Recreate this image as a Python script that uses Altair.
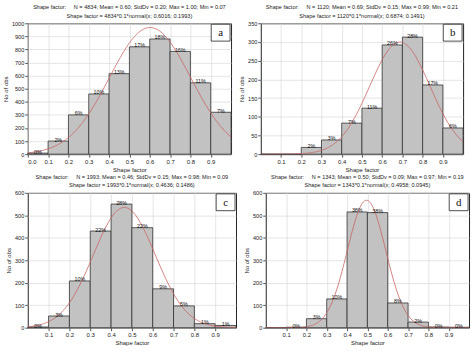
import altair as alt
import pandas as pd

# ---- data ----
bin_lo = [0.0, 0.1, 0.2, 0.3, 0.4, 0.5, 0.6, 0.7, 0.8, 0.9]
bin_hi = [0.1, 0.2, 0.3, 0.4, 0.5, 0.6, 0.7, 0.8, 0.9, 1.0]

counts_a = [8, 100, 300, 460, 615, 820, 880, 785, 545, 320]
pct_a = ["0%", "2%", "6%", "10%", "13%", "17%", "18%", "16%", "11%", "7%"]

counts_b = [0, 0, 18, 38, 83, 123, 292, 313, 185, 70]
pct_b = ["", "", "2%", "3%", "7%", "11%", "26%", "28%", "17%", "6%"]

counts_c = [3, 52, 208, 430, 550, 445, 173, 97, 18, 10]
pct_c = ["0%", "3%", "10%", "22%", "28%", "22%", "9%", "5%", "1%", "1%"]

counts_d = [0, 2, 40, 128, 515, 512, 110, 25, 3, 2]
pct_d = ["", "0%", "3%", "10%", "38%", "38%", "8%", "2%", "0%", "0%"]

# fitted normal parameters (as printed in each panel header)
fit_n = {"a": 4834, "b": 1120, "c": 1993, "d": 1343}
fit_mean = {"a": 0.6016, "b": 0.6874, "c": 0.4636, "d": 0.4958}
fit_sd = {"a": 0.1993, "b": 0.1491, "c": 0.1486, "d": 0.0945}

header1 = {
    "a": "N = 4834; Mean = 0.60; StdDv = 0.20; Max = 1.00; Min = 0.07",
    "b": "N = 1120; Mean = 0.69; StdDv = 0.15; Max = 0.99; Min = 0.21",
    "c": "N = 1993; Mean = 0.46; StdDv = 0.15; Max = 0.98; Min = 0.09",
    "d": "N = 1343; Mean = 0.50; StdDv = 0.09; Max = 0.97; Min = 0.19",
}

y_max = {"a": 1000, "b": 350, "c": 600, "d": 600}
y_step = {"a": 100, "b": 50, "c": 100, "d": 100}
x_ticks = {
    "a": [0.0, 0.1, 0.2, 0.3, 0.4, 0.5, 0.6, 0.7, 0.8, 0.9],
    "b": [0.1, 0.2, 0.3, 0.4, 0.5, 0.6, 0.7, 0.8, 0.9],
    "c": [0.1, 0.2, 0.3, 0.4, 0.5, 0.6, 0.7, 0.8, 0.9],
    "d": [0.1, 0.2, 0.3, 0.4, 0.5, 0.6, 0.7, 0.8, 0.9],
}

FONT = "Liberation Sans"
NB = "\u00a0"


def panel(key, counts, pcts, w, h):
    df = pd.DataFrame({
        "lo": bin_lo,
        "hi": bin_hi,
        "mid": [(a + b) / 2 for a, b in zip(bin_lo, bin_hi)],
        "count": counts,
        "pct": pcts,
    })
    xs = alt.Scale(domain=[0, 1], nice=False, zero=False)
    ys = alt.Scale(domain=[0, y_max[key]], nice=False)
    xaxis = alt.Axis(values=x_ticks[key], format=".1f", title="Shape factor",
                     labelFontSize=6, titleFontSize=6, titleFontWeight="normal",
                     labelFont=FONT, titleFont=FONT, tickSize=3, labelPadding=1,
                     titlePadding=2, gridColor="#d9d9d9", gridWidth=0.7,
                     labelOverlap=False, domain=False, tickColor="#555",
                     labelColor="#222", titleColor="#222")
    yvals = list(range(0, y_max[key] + 1, y_step[key]))
    yaxis = alt.Axis(values=yvals, format="d", title="No of obs", labelFontSize=5.6,
                     titleFontSize=6, titleFontWeight="normal", labelFont=FONT,
                     titleFont=FONT, tickSize=3, labelPadding=1, titlePadding=3,
                     gridColor="#d9d9d9", gridWidth=0.7, domain=False,
                     labelOverlap=False, tickColor="#555", labelColor="#222",
                     titleColor="#222")
    base = alt.Chart(df)
    bars = base.mark_bar(fill="#c2c2c2", stroke="#333333", strokeWidth=0.8).encode(
        x=alt.X("lo:Q", scale=xs, axis=xaxis),
        x2="hi:Q",
        y=alt.Y("count:Q", scale=ys, axis=yaxis),
        y2=alt.datum(0),
    )
    labels = base.mark_text(baseline="bottom", dy=1.5, fontSize=5.4, font=FONT,
                            color="#111").encode(
        x=alt.X("mid:Q", scale=xs, axis=xaxis),
        y=alt.Y("count:Q", scale=ys, axis=yaxis),
        text="pct:N")
    curve = alt.Chart(alt.sequence(0, 1.0001, 0.005, as_="x")).transform_calculate(
        y=f"{fit_n[key]}*0.1*densityNormal(datum.x, {fit_mean[key]}, {fit_sd[key]})"
    ).mark_line(color="#c86464", strokeWidth=0.8, clip=True).encode(
        x=alt.X("x:Q", scale=xs, axis=xaxis), y=alt.Y("y:Q", scale=ys, axis=yaxis))
    one = pd.DataFrame({"k": [key]})
    box = alt.Chart(one).mark_rect(fill="white", stroke="#222", strokeWidth=0.8).encode(
        x=alt.value(w - 20), x2=alt.value(w - 1), y=alt.value(1), y2=alt.value(18))
    letter = alt.Chart(one).mark_text(font="Liberation Serif", fontSize=11,
                                      color="#111").encode(
        x=alt.value(w - 10.5), y=alt.value(10), text="k:N")
    title = alt.TitleParams(
        text=[f"Shape factor:{NB*5}" + header1[key],
              f"Shape factor = {fit_n[key]}*0.1*normal(x; {fit_mean[key]:.4f}; {fit_sd[key]:.4f})"],
        fontSize=5.6, font=FONT, fontWeight="normal", anchor="middle",
        lineHeight=8.5, offset=2, color="#222")
    return alt.layer(bars, curve, labels, box, letter).properties(
        width=w, height=h, title=title)


pa = panel("a", counts_a, pct_a, 205, 132)
pb = panel("b", counts_b, pct_b, 204, 132)
pc = panel("c", counts_c, pct_c, 210, 136)
pd_ = panel("d", counts_d, pct_d, 205, 136)

chart = alt.vconcat(
    alt.hconcat(pa, pb, spacing=6),
    alt.hconcat(pc, pd_, spacing=6),
    spacing=1,
).configure_view(stroke="#222", strokeWidth=1).configure_axis(
    labelOverlap=False
).properties(
    padding={"left": 2, "top": 3, "right": 4, "bottom": 0},
    background="white",
)

chart.save("out.html", embed_options={"renderer": "svg", "actions": False})
